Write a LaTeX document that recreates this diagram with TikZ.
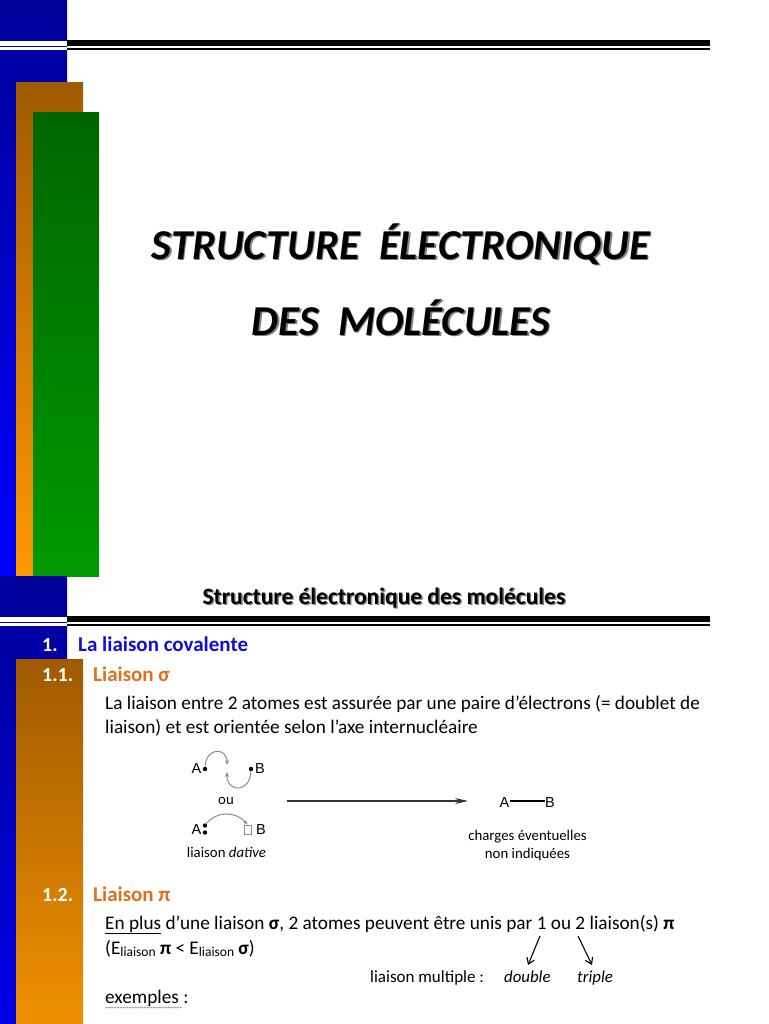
\documentclass[tikz,border=0pt]{standalone}
\usepackage{fontspec}
\setmainfont{Carlito}
\newfontfamily\atomfont{Liberation Sans}
\usetikzlibrary{arrows.meta,decorations.pathmorphing}
\definecolor{SlideBlueTop}{HTML}{000099}
\definecolor{SlideBlueEnd}{HTML}{0000FF}
\definecolor{SlideBlueCut}{HTML}{0000E6}
\definecolor{SlideOrangeTop}{HTML}{A05A00}
\definecolor{SlideOrangeEnd}{HTML}{FF9900}
\definecolor{SlideOrangeCut}{HTML}{F09000}
\definecolor{SlideGreenTop}{HTML}{006600}
\definecolor{SlideGreenEnd}{HTML}{009900}
\definecolor{HeadBlue}{HTML}{0F0FD8}
\definecolor{HeadOrange}{HTML}{E0701E}
\definecolor{CurlyGray}{HTML}{8C8C8C}
\tikzset{
    body/.style={anchor=base west, inner sep = 0, font=\fontsize{19.25}{22}\selectfont},
    small/.style={anchor=base, inner sep = 0, font=\fontsize{14.8}{17}\selectfont},
    atom/.style={anchor=base west, inner sep = 0, font=\fontsize{14.5}{17}\atomfont\selectfont},
    number/.style={anchor=base west, inner sep = 0, text=white, font=\fontsize{20}{22}\bfseries\selectfont},
    head/.style={anchor=base west, inner sep = 0, font=\fontsize{21}{24}\bfseries\selectfont},
    dot/.style={circle, fill, inner sep = 0, minimum size = 4.4pt},
    curly/.style={draw=CurlyGray, line width = 1pt, -{Stealth[length=5pt,width=4pt]}},
    pointer/.style={draw=black, line width = 1.1pt, -{Straight Barb[length=6pt,width=8pt]}},
    maintitle/.style={anchor=base, inner sep = 0, font=\fontsize{42.6}{48}\bfseries\itshape\selectfont},
    subtitle/.style={anchor=base, inner sep = 0, font=\fontsize{23.5}{27}\bfseries\selectfont},
}
\newcommand{\shadowed}[4]{%
    \node[#2, text=black!50] (#1.s) at ([xshift=1.4pt,yshift=-1.6pt]#3) {#4};
    \node[#2] (#1) at (#3) {#4};
}
\newcommand{\rules}[1]{%
    \fill[white] (0,#1+.8) rectangle (67,#1+6);
    \fill[white] (0,#1+7.4) rectangle (67,#1+9.6);
    \fill[black] (67,#1) rectangle (710,#1+6);
    \fill[black] (67,#1+7.6) rectangle (710,#1+9.6);
}
\begin{document}
\begin{tikzpicture}[x=1pt,y=-1pt]
        \useasboundingbox (0,0) rectangle (768,1024);
        \fill[white] (0,0) rectangle (768,1024);
        %
        % First slide
        \shade[top color=SlideBlueTop, bottom color=SlideBlueEnd] (0,0) rectangle (67,576);
        \rules{40}
        \shade[top color=SlideOrangeTop, bottom color=SlideOrangeEnd] (16,83) rectangle (83,576);
        \shade[top color=SlideGreenTop, bottom color=SlideGreenEnd] (33,113) rectangle (99,576);
        \shadowed{T1}{maintitle}{401,259}{STRUCTURE\ \ ÉLECTRONIQUE}
        \shadowed{T2}{maintitle}{401,335}{DES\ \ MOLÉCULES}
        %
        %
        % Second slide
        \shade[top color=SlideBlueTop, bottom color=SlideBlueCut] (0,576) rectangle (67,1024);
        \rules{616}
        \shade[top color=SlideOrangeTop, bottom color=SlideOrangeCut] (16,659) rectangle (83,1024);
        \shadowed{T3}{subtitle}{384,604}{Structure électronique des molécules}
        %
        \node[number] (N1) at (42,651) {1.};
        \node[head, text=HeadBlue] (H1) at (78,651) {La liaison covalente};
        \node[number] (N11) at (42,681) {1.1.};
        \node[head, text=HeadOrange] (H11) at (93,681) {Liaison σ};
        \node[body] (L1) at (105,709) {La liaison entre 2 atomes est assurée par une paire d’électrons (= doublet de};
        \node[body] (L2) at (105,733) {liaison) et est orientée selon l’axe internucléaire};
        %
        % Radical pair
        \node[atom] (A1) at (191.5,773) {A};
        \node[atom] (B1) at (255,773) {B};
        \node[dot] (A1d) at (205,769) {};
        \node[dot] (B1d) at (251,769) {};
        \coordinate (M1) at (227,765);
        \coordinate (M2) at (227,772);
        \draw[curly] (A1d) .. controls (206,747) and (227,747) .. (M1);
        \draw[curly] (B1d) .. controls (250,793) and (227,793) .. (M2);
        \node[small] (OU) at (226,804) {ou};
        %
        % Dative pair
        \node[atom] (A2) at (191.5,834) {A};
        \node[atom] (B2) at (256,834) {B};
        \node[dot] (A2a) at (205,825.5) {};
        \node[dot] (A2b) at (205,832.5) {};
        \node[draw=CurlyGray, line width = .8pt, inner sep = 0, minimum width = 7pt, minimum height = 9pt] (V2) at (247.5,829.5) {};
        \draw[curly] (A2a) .. controls (216,811) and (236,811) .. (V2.north);
        \node[small] (DA) at (226.5,857) {liaison \textit{dative}};
        %
        % Result
        \coordinate (R1) at (287,801);
        \coordinate (R2) at (468,801);
        \draw[line width = 1.2pt, black!80, -{Stealth[length=13pt,width=6pt]}] (R1) -- (R2);
        \node[atom] (A3) at (499.5,807) {A};
        \node[atom] (B3) at (545,807) {B};
        \draw[line width = 1.1pt] (A3.east |- R1) -- (B3.west |- R1);
        \node[small] (C1) at (527.5,840) {charges éventuelles};
        \node[small] (C2) at (527.5,858) {non indiquées};
        %
        %
        % Liaison pi
        \node[number] (N12) at (42,901) {1.2.};
        \node[head, text=HeadOrange] (H12) at (93,901) {Liaison π};
        \node[body] (L3) at (105,929) {\underline{En plus} d’une liaison \textbf{σ}, 2 atomes peuvent être unis par 1 ou 2 liaison(s) \textbf{π}};
        \node[body] (L4) at (105,954) {(E\raisebox{-.3ex}{\fontsize{13.5}{15}\selectfont liaison} \textbf{π} < E\raisebox{-.3ex}{\fontsize{13.5}{15}\selectfont liaison} \textbf{σ})};
        \node[body, font=\fontsize{17}{20}\selectfont] (L5) at (370,982) {liaison multiple :};
        \node[body, font=\fontsize{16.8}{20}\itshape\selectfont] (D1) at (504,982) {double};
        \node[body, font=\fontsize{16.8}{20}\itshape\selectfont] (D2) at (577,982) {triple};
        \coordinate (P1) at (540,936);
        \coordinate (P2) at (578,936);
        \draw[pointer] (P1) -- (528,965);
        \draw[pointer] (P2) -- (592,965);
        \node[body] (L6) at (105,1003) {exemples :};
        \draw[CurlyGray, line width = .5pt, decorate, decoration={snake, amplitude=.6pt, segment length=3pt}] (L6.base west) ++(0,4.5) -- ++(77,0);
    \end{tikzpicture}
\end{document}
